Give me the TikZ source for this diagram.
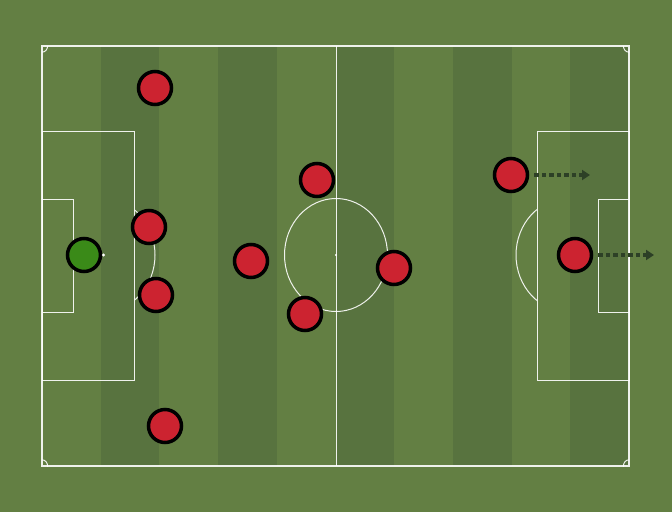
\documentclass[tikz,border=0pt]{standalone}
\usepackage{tikz}
\usetikzlibrary{positioning,arrows.meta}
\definecolor{pitchlight}{RGB}{99,127,67}
\definecolor{pitchdark}{RGB}{88,115,63}
\definecolor{shirtred}{RGB}{204,35,48}
\definecolor{keepergreen}{RGB}{58,138,24}
\definecolor{runcol}{RGB}{45,64,38}
\tikzset{
  player/.style={circle,draw=black,line width=3.5pt,fill=shirtred,minimum size=33pt,inner sep=0pt},
  keeper/.style={player,fill=keepergreen},
  pitchline/.style={draw=white,draw opacity=0.9,line width=1pt},
  runarrow/.style={draw=runcol,line width=3.2pt,dash pattern=on 4.5pt off 3pt,shorten <=5pt,-{Triangle[length=8pt,width=10pt]}}
}
\begin{document}
\begin{tikzpicture}[x=1pt,y=-1pt]
\fill[pitchlight] (0,0) rectangle (672,512);
\useasboundingbox (0,0) rectangle (672,512);
% stripes
\foreach \i in {1,3,5,7,9}
  \fill[pitchdark] ({42+\i*58.7},46) rectangle ({42+(\i+1)*58.7},466);
% pitch markings
\draw[pitchline,line width=1.4pt] (42,46) rectangle (629,466);
\draw[pitchline] (336,46) -- (336,466);
\draw[pitchline] (336,255) ellipse[x radius=51.5pt,y radius=56.5pt];
\fill[white] (336,255) circle (1.2pt);
\draw[pitchline] (42,131) rectangle (134.5,380);
\draw[pitchline] (42,199) rectangle (73,312);
\draw[pitchline] (629,131) rectangle (537,380);
\draw[pitchline] (629,199) rectangle (598,312);
\begin{scope}
  \clip (134.5,0) rectangle (250,512);
  \draw[pitchline] (103.5,255) ellipse[x radius=51.5pt,y radius=56.5pt];
\end{scope}
\begin{scope}
  \clip (400,0) rectangle (537,512);
  \draw[pitchline] (567.5,255) ellipse[x radius=51.5pt,y radius=56.5pt];
\end{scope}
\begin{scope}
  \clip (42,46) rectangle (629,466);
  \foreach \cx/\cy in {42/46,629/46,42/466,629/466}
    \draw[pitchline] (\cx,\cy) ellipse[x radius=5.6pt,y radius=6.2pt];
\end{scope}
% players
\node[keeper] (gk) at (84,255) {};
\fill[white] (103.5,255) circle (1.6pt);
\fill[white] (567.5,255) circle (1.2pt);
\node[player] (p1) at (155,88) {};
\node[player] (p2) at (149,227) {};
\node[player] (p3) at (156,295) {};
\node[player] (p4) at (165,426) {};
\node[player] (p5) at (251,261) {};
\node[player] (p6) at (317,180) {};
\node[player] (p7) at (305,314) {};
\node[player] (p8) at (394,268) {};
\node[player] (p9) at (511,175) {};
\node[player] (p10) at (575,255) {};
% runs
\coordinate (r9) at (590,175);
\coordinate (r10) at (654,255);
\draw[runarrow] (p9) -- (r9);
\draw[runarrow] (p10) -- (r10);
\end{tikzpicture}
\end{document}
